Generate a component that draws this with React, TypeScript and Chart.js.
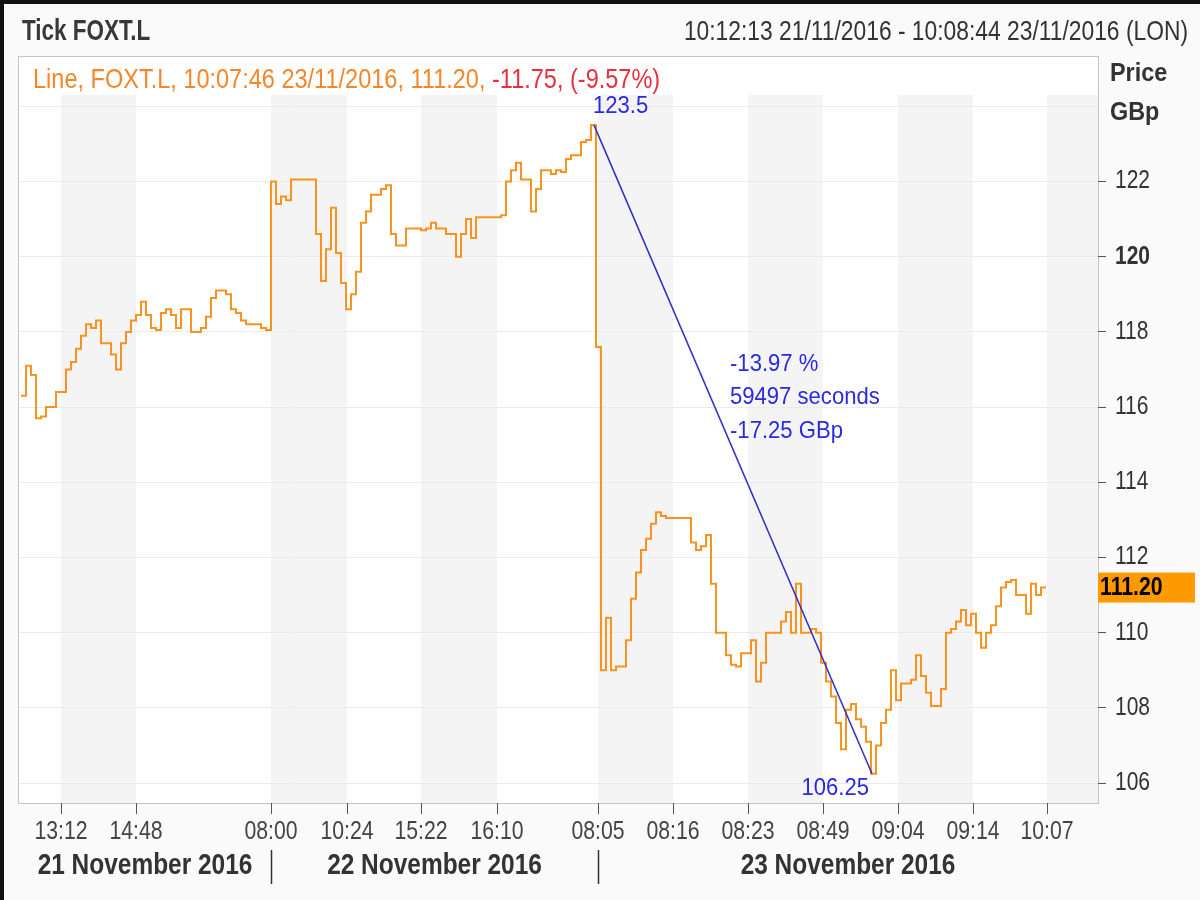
import React, { useEffect, useRef } from "react";
import { Chart, registerables } from "chart.js";

Chart.register(...registerables);

// ---- Data (tick sequence index -> price in GBp) ----
const day21Prices = [
  116.3, 117.1, 116.85, 115.7, 115.75, 116.0, 116.0, 116.4, 116.4, 117.0,
  117.2, 117.55, 117.9, 118.2, 118.1, 118.3, 117.7, 117.7, 117.4, 117.0,
  117.7, 118.0, 118.3, 118.45, 118.8, 118.45, 118.1, 118.05, 118.5, 118.6,
  118.45, 118.1, 118.6, 118.6, 118.0, 118.0, 118.1, 118.4, 118.9, 119.1,
  119.1, 119.0, 118.6, 118.5, 118.3, 118.2, 118.2, 118.2, 118.1, 118.05,
];
const day22Prices = [
  122.0, 121.4, 121.6, 121.5, 122.05, 122.05, 122.05, 122.05, 122.05, 120.6,
  119.35, 120.2, 121.3, 120.1, 119.3, 118.6, 119.0, 119.6, 120.9, 121.2,
  121.65, 121.65, 121.8, 121.9, 120.6, 120.3, 120.3, 120.75, 120.75, 120.75,
  120.7, 120.75, 120.9, 120.75, 120.75, 120.6, 120.6, 120.0, 120.6, 121.0,
  120.5, 121.05, 121.05, 121.05, 121.05, 121.05, 121.1, 122.0, 122.3, 122.5,
  122.05, 122.05, 121.2, 121.8, 122.3, 122.3, 122.2, 122.3, 122.25, 122.6,
  122.7, 122.7, 123.05, 123.1, 123.5,
];
const day23Prices = [
  117.6, 109.0, 110.4, 109.0, 109.1, 109.1, 109.8, 110.9, 111.6, 112.2,
  112.5, 112.9, 113.2, 113.1, 113.05, 113.05, 113.05, 113.05, 113.05, 112.4,
  112.2, 112.3, 112.6, 111.3, 110.0, 110.0, 109.4, 109.15, 109.1, 109.45,
  109.45, 109.8, 108.7, 109.2, 110.0, 110.0, 110.0, 110.3, 110.55, 110.0,
  111.3, 110.0, 110.0, 110.1, 110.0, 109.2, 108.7, 108.3, 107.6, 106.9,
  107.95, 108.1, 107.7, 107.5, 107.1, 106.25, 107.0, 107.6, 107.95, 109.0,
  108.2, 108.65, 108.65, 108.75, 109.4, 108.85, 108.4, 108.05, 108.05, 108.5,
  110.0, 110.1, 110.3, 110.6, 110.2, 110.5, 110.0, 109.6, 110.0, 110.2,
  110.7, 111.2, 111.35, 111.4, 111.0, 111.0, 110.5, 111.3, 111.0, 111.2,
  111.2,
];
const prices = [...day21Prices, ...day22Prices, ...day23Prices];

const xTickPos = [8, 23, 50, 65.2, 80, 95.2, 115.4, 130.4, 145.4, 160.4, 175.4, 190.4, 205.2];
const xTickLabels = ["13:12", "14:48", "08:00", "10:24", "15:22", "16:10", "08:05", "08:16", "08:23", "08:49", "09:04", "09:14", "10:07"];
const dayLabels = ["21 November 2016", "22 November 2016", "23 November 2016"];
const dayStartPos = [-0.4, 50, 115.4];
const yTicks = [106, 108, 110, 112, 114, 116, 118, 120, 122, 124];
const yTickLabels = ["106", "108", "110", "112", "114", "116", "118", "120", "122", ""];
const X_MIN = -0.4;
const X_MAX = 215.4;
const Y_MIN = 105.47;
const Y_MAX = 124.3;

const measureFrom = { x: 114.6, y: 123.5 };
const measureTo = { x: 170.2, y: 106.25 };
const measureSeconds = 59497;

const titleText = "Tick FOXT.L";
const rangeText = "10:12:13 21/11/2016 - 10:08:44 23/11/2016 (LON)";
const legendMain = "Line, FOXT.L, 10:07:46 23/11/2016, 111.20, ";
const legendChange = "-11.75, (-9.57%)";

const FONT = '"Liberation Sans", Arial, sans-serif';
const ORANGE = "#f7931e";
const BLUE = "#2a2ae0";
const TEXT = "#333333";

function drawText(
  ctx: CanvasRenderingContext2D,
  text: string,
  x: number,
  y: number,
  font: string,
  color: string,
  align: CanvasTextAlign,
  sx: number
): number {
  ctx.save();
  ctx.font = font;
  ctx.fillStyle = color;
  ctx.textAlign = align;
  ctx.textBaseline = "middle";
  ctx.translate(x, y);
  ctx.scale(sx, 1);
  ctx.fillText(text, 0, 0);
  const w = ctx.measureText(text).width * sx;
  ctx.restore();
  return w;
}

const decorPlugin = {
  id: "foxtDecor",
  beforeDraw(chart: any) {
    const { ctx, chartArea: a, scales } = chart;
    const x = scales.x;
    ctx.save();
    ctx.fillStyle = "#fafafa";
    ctx.fillRect(0, 0, chart.width, chart.height);
    ctx.fillStyle = "#111111";
    ctx.fillRect(0, 0, chart.width, 4);
    ctx.fillRect(0, 0, 4, chart.height);

    const boxTop = 56;
    ctx.fillStyle = "#ffffff";
    ctx.fillRect(a.left, boxTop, a.right - a.left, a.bottom - boxTop);

    ctx.fillStyle = "#f4f4f4";
    for (let k = 0; k < xTickPos.length; k += 2) {
      const x0 = x.getPixelForValue(xTickPos[k]);
      const x1 = k + 1 < xTickPos.length ? x.getPixelForValue(xTickPos[k + 1]) : a.right;
      ctx.fillRect(x0, a.top, x1 - x0, a.bottom - a.top);
    }

    ctx.strokeStyle = "#c4c4c4";
    ctx.lineWidth = 1;
    ctx.strokeRect(a.left - 0.5, boxTop + 0.5, a.right - a.left + 1, a.bottom - boxTop);

    // header
    drawText(ctx, titleText, 22, 32, `bold 30px ${FONT}`, "#383838", "left", 0.75);
    drawText(ctx, rangeText, 1188, 32, `28px ${FONT}`, TEXT, "right", 0.815);

    // axis title
    drawText(ctx, "Price", 1110, 74, `bold 26px ${FONT}`, TEXT, "left", 0.9);
    drawText(ctx, "GBp", 1110, 113, `bold 26px ${FONT}`, TEXT, "left", 0.9);

    // legend
    const w = drawText(ctx, legendMain, 33, 80, `28px ${FONT}`, "#f5872a", "left", 0.84);
    drawText(ctx, legendChange, 33 + w, 80, `28px ${FONT}`, "#e8303c", "left", 0.84);
    ctx.restore();
  },
  afterDraw(chart: any) {
    const { ctx, chartArea: a, scales } = chart;
    const x = scales.x;
    const y = scales.y;
    ctx.save();

    // axis tick labels
    for (let i = 0; i < xTickPos.length; i++) {
      drawText(ctx, xTickLabels[i], x.getPixelForValue(xTickPos[i]), 832, `25px ${FONT}`, "#444444", "center", 0.85);
    }
    for (let i = 0; i < yTicks.length; i++) {
      if (!yTickLabels[i]) continue;
      const bold = yTicks[i] === 120 ? "bold " : "";
      drawText(ctx, yTickLabels[i], a.right + 17, y.getPixelForValue(yTicks[i]), `${bold}25px ${FONT}`, TEXT, "left", 0.84);
    }

    // measure line
    const x0 = x.getPixelForValue(measureFrom.x);
    const y0 = y.getPixelForValue(measureFrom.y);
    const x1 = x.getPixelForValue(measureTo.x);
    const y1 = y.getPixelForValue(measureTo.y);
    ctx.strokeStyle = "#2d2dc8";
    ctx.lineWidth = 1.5;
    ctx.beginPath();
    ctx.moveTo(x0, y0);
    ctx.lineTo(x1, y1);
    ctx.stroke();

    const bf = `24px ${FONT}`;
    drawText(ctx, String(measureFrom.y), x0 - 1, y0 - 19, bf, BLUE, "left", 0.92);
    drawText(ctx, String(measureTo.y), x1 - 3, y1 + 15, bf, BLUE, "right", 0.92);

    const diff = measureTo.y - measureFrom.y;
    const pct = (diff / measureFrom.y) * 100;
    const mx = (x0 + x1) / 2;
    const my = (y0 + y1) / 2;
    drawText(ctx, `${pct.toFixed(2)} %`, mx - 3, my - 85, bf, BLUE, "left", 0.92);
    drawText(ctx, `${measureSeconds} seconds`, mx - 3, my - 52, bf, BLUE, "left", 0.92);
    drawText(ctx, `${diff.toFixed(2)} GBp`, mx - 3, my - 18, bf, BLUE, "left", 0.92);

    // last price badge
    const last = prices[prices.length - 1];
    const ly = y.getPixelForValue(last);
    ctx.fillStyle = "#ff9900";
    ctx.fillRect(a.right, ly - 15, 97, 30);
    drawText(ctx, last.toFixed(2), a.right + 2, ly + 1, `bold 25px ${FONT}`, "#000000", "left", 0.85);

    // day row
    for (let d = 0; d < dayLabels.length; d++) {
      const s = x.getPixelForValue(dayStartPos[d]);
      const e = d + 1 < dayLabels.length ? x.getPixelForValue(dayStartPos[d + 1]) : a.right;
      drawText(ctx, dayLabels[d], (s + e) / 2, 866, `bold 30px ${FONT}`, TEXT, "center", 0.815);
      if (d > 0) {
        ctx.strokeStyle = "#333333";
        ctx.lineWidth = 1.5;
        ctx.beginPath();
        ctx.moveTo(Math.round(s) + 0.5, 850);
        ctx.lineTo(Math.round(s) + 0.5, 884);
        ctx.stroke();
      }
    }
    ctx.restore();
  },
};

export default function App() {
  const canvasRef = useRef<HTMLCanvasElement | null>(null);

  useEffect(() => {
    const canvas = canvasRef.current;
    if (!canvas) return;
    const chart = new Chart(canvas, {
      type: "line",
      data: {
        datasets: [
          {
            label: "FOXT.L",
            data: prices.map((p, i) => ({ x: i, y: p })),
            borderColor: ORANGE,
            borderWidth: 2,
            pointRadius: 0,
            stepped: true,
            fill: false,
          },
        ],
      },
      options: {
        animation: false,
        responsive: false,
        maintainAspectRatio: false,
        layout: { padding: { left: 19, top: 95, right: 0, bottom: 0 } },
        plugins: { legend: { display: false }, tooltip: { enabled: false } },
        scales: {
          x: {
            type: "linear",
            min: X_MIN,
            max: X_MAX,
            afterBuildTicks: (s: any) => {
              s.ticks = xTickPos.map((v) => ({ value: v }));
            },
            afterFit: (s: any) => {
              s.height = 97;
            },
            ticks: { display: false, autoSkip: false, maxRotation: 0 },
            grid: { drawOnChartArea: false, tickLength: 11, tickColor: "#555555" },
            border: { display: false },
          },
          y: {
            position: "right",
            min: Y_MIN,
            max: Y_MAX,
            afterBuildTicks: (s: any) => {
              s.ticks = yTicks.map((v) => ({ value: v }));
            },
            afterFit: (s: any) => {
              s.width = 102;
            },
            ticks: { display: false },
            grid: {
              color: "#ebebeb",
              tickLength: 8,
              tickColor: (c: any) => (c.tick && c.tick.value === 124 ? "rgba(0,0,0,0)" : "#555555"),
            },
            border: { display: false },
          },
        },
      },
      plugins: [decorPlugin],
    } as any);
    return () => chart.destroy();
  }, []);

  return (
    <div style={{ position: "fixed", left: 0, top: 0, width: 1200, height: 900 }}>
      <canvas ref={canvasRef} width={1200} height={900} style={{ display: "block", width: 1200, height: 900 }} />
    </div>
  );
}
